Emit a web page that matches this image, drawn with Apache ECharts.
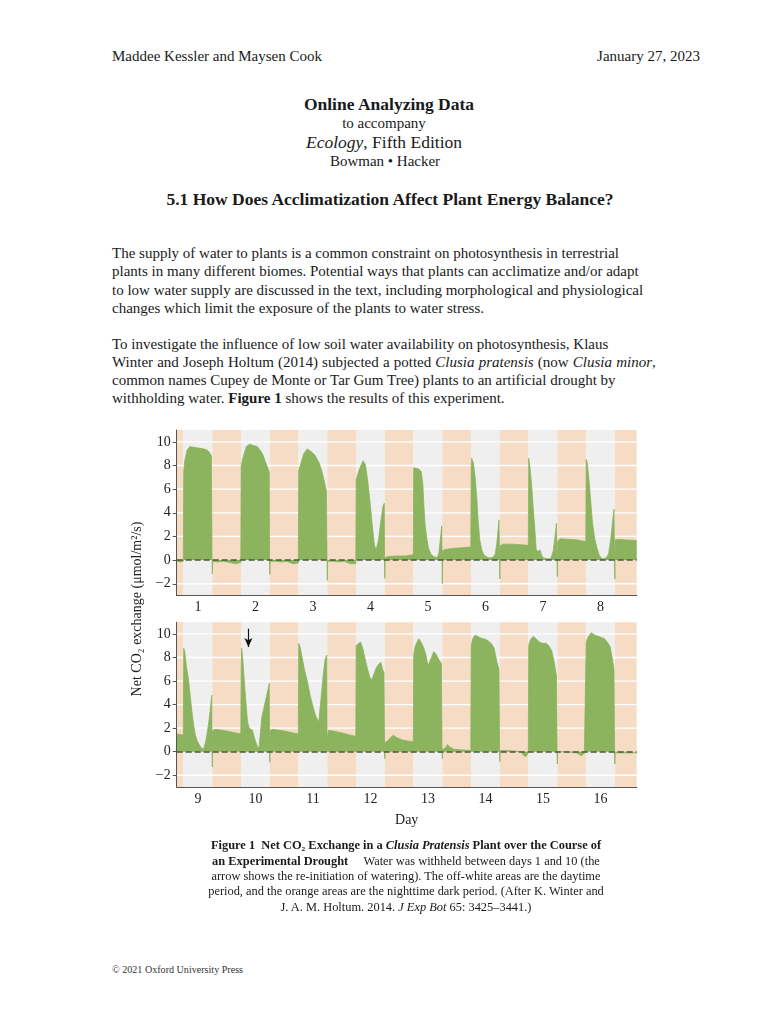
<!DOCTYPE html>
<html><head><meta charset="utf-8">
<script src="https://cdn.jsdelivr.net/npm/echarts@6/dist/echarts.min.js"></script>
<style>
html,body{margin:0;padding:0;background:#fff;}
#page{position:relative;width:768px;height:1024px;overflow:hidden;font-family:'Liberation Serif','Times New Roman',serif;color:#1a1a1a;}
.t{position:absolute;white-space:nowrap;line-height:18px;font-size:15px;}
.c{transform:translateX(-50%);}
.b{font-weight:bold;}
.cap{position:absolute;white-space:nowrap;line-height:15px;font-size:12.4px;transform:translateX(-50%);}
#chart{position:absolute;left:100px;top:420px;width:560px;height:420px;}
</style></head><body><div id="page">
<div class="t" style="left:112px;top:47px;">Maddee Kessler and Maysen Cook</div>
<div class="t" style="right:68px;top:47px;">January 27, 2023</div>
<div class="t c b" style="left:389px;top:95px;font-size:17.5px;">Online Analyzing Data</div>
<div class="t c" style="left:384px;top:114px;">to accompany</div>
<div class="t c" style="left:384px;top:133px;font-size:17.5px;"><i>Ecology</i>, Fifth Edition</div>
<div class="t c" style="left:385px;top:152px;">Bowman • Hacker</div>
<div class="t c b" style="left:390px;top:190px;font-size:17.5px;">5.1 How Does Acclimatization Affect Plant Energy Balance?</div>

<div class="t" style="left:112px;top:244px;">The supply of water to plants is a common constraint on photosynthesis in terrestrial</div>
<div class="t" style="left:112px;top:262px;">plants in many different biomes. Potential ways that plants can acclimatize and/or adapt</div>
<div class="t" style="left:112px;top:281px;">to low water supply are discussed in the text, including morphological and physiological</div>
<div class="t" style="left:112px;top:299px;">changes which limit the exposure of the plants to water stress.</div>

<div class="t" style="left:112px;top:335px;">To investigate the influence of low soil water availability on photosynthesis, Klaus</div>
<div class="t" style="left:112px;top:353px;word-spacing:0.4px;">Winter and Joseph Holtum (2014) subjected a potted <i>Clusia pratensis</i> (now <i>Clusia minor</i>,</div>
<div class="t" style="left:112px;top:371px;">common names Cupey de Monte or Tar Gum Tree) plants to an artificial drought by</div>
<div class="t" style="left:112px;top:389px;">withholding water. <b>Figure 1</b> shows the results of this experiment.</div>

<div id="chart"></div>

<div class="cap" style="left:406px;top:838px;"><b>Figure 1&nbsp; Net CO₂ Exchange in a <i>Clusia Pratensis</i> Plant over the Course of</b></div>
<div class="cap" style="left:406px;top:854px;"><b>an Experimental Drought</b>&nbsp;&nbsp;&nbsp;&nbsp; Water was withheld between days 1 and 10 (the</div>
<div class="cap" style="left:406px;top:869px;">arrow shows the re-initiation of watering). The off-white areas are the daytime</div>
<div class="cap" style="left:406px;top:884px;">period, and the orange areas are the nighttime dark period. (After K. Winter and</div>
<div class="cap" style="left:406px;top:900px;">J. A. M. Holtum. 2014. <i>J Exp Bot</i> 65: 3425–3441.)</div>

<div class="t" style="left:112px;top:961px;font-size:10.1px;color:#333;">© 2021 Oxford University Press</div>
</div>
<script>
// ---- data (time in days; integer = midday of that day; value = net CO2 exchange, µmol/m²/s)
const daysTop = [1, 2, 3, 4, 5, 6, 7, 8];
const daysBottom = [9, 10, 11, 12, 13, 14, 15, 16];
const yTicks = [-2, 0, 2, 4, 6, 8, 10];

const pre1 = [[0.63,-0.1],[0.7,-0.15],[0.745,-0.1]];
const day1 = [[0.752,7.5],[0.77,8.4],[0.81,9.3],[0.86,9.6],[0.92,9.55],[0.98,9.5],[1.04,9.45],[1.1,9.4],[1.16,9.3],[1.2,9.1],[1.235,8.8],[1.245,0],[1.25,-1.15],[1.255,-0.1],[1.35,-0.15],[1.45,-0.1],[1.55,-0.2],[1.65,-0.3],[1.745,-0.2]];
const day2 = [[1.752,8.0],[1.78,8.6],[1.84,9.6],[1.9,9.8],[1.96,9.7],[2.03,9.6],[2.08,9.3],[2.13,8.9],[2.18,8.2],[2.23,7.6],[2.24,7.4],[2.245,0],[2.25,-1.2],[2.255,-0.1],[2.35,-0.1],[2.45,-0.15],[2.55,-0.1],[2.65,-0.3],[2.745,-0.25]];
const day3 = [[2.752,7.6],[2.78,8.0],[2.84,9.0],[2.9,9.4],[2.96,9.2],[3.03,8.9],[3.1,8.3],[3.15,7.6],[3.2,6.6],[3.235,5.8],[3.245,0],[3.25,-1.7],[3.255,-0.1],[3.35,-0.1],[3.45,-0.15],[3.55,-0.1],[3.65,-0.3],[3.745,-0.3]];
const day4 = [[3.752,6.8],[3.8,7.6],[3.87,8.4],[3.91,8.1],[3.95,6.8],[3.99,5.0],[4.03,3.0],[4.07,1.2],[4.1,0.9],[4.14,1.7],[4.18,3.3],[4.22,4.6],[4.24,4.8],[4.245,0],[4.25,-1.55],[4.255,0.2],[4.3,0.3],[4.45,0.35],[4.6,0.35],[4.745,0.45]];
const day5 = [[4.752,7.8],[4.78,7.9],[4.84,7.7],[4.88,7.5],[4.91,6.5],[4.93,4.5],[4.95,3.0],[4.98,1.8],[5.01,1.0],[5.05,0.5],[5.1,0.3],[5.16,0.2],[5.19,0.6],[5.22,2.0],[5.24,2.9],[5.245,0],[5.25,-2.0],[5.255,0.8],[5.3,0.9],[5.45,1.0],[5.6,1.05],[5.745,1.1]];
const day6 = [[5.752,8.0],[5.76,8.6],[5.79,8.2],[5.82,7.0],[5.85,5.2],[5.87,3.5],[5.9,1.7],[5.94,0.8],[5.98,0.4],[6.05,0.2],[6.12,0.2],[6.17,0.5],[6.2,1.5],[6.235,3.4],[6.245,0],[6.25,-1.6],[6.255,1.2],[6.3,1.35],[6.45,1.35],[6.6,1.3],[6.745,1.25]];
const day7 = [[6.752,8.6],[6.77,8.0],[6.8,6.5],[6.83,4.4],[6.86,2.5],[6.88,1.0],[6.9,0.7],[6.93,0.8],[6.95,0.85],[6.97,0.5],[7.0,0.2],[7.08,0.1],[7.14,0.15],[7.18,0.8],[7.21,2.0],[7.235,3.1],[7.245,0],[7.25,-1.4],[7.255,1.6],[7.3,1.8],[7.45,1.75],[7.6,1.7],[7.745,1.55]];
const day8 = [[7.752,8.5],[7.77,8.2],[7.8,6.8],[7.83,5.0],[7.86,3.2],[7.9,1.8],[7.94,1.0],[7.98,0.4],[8.03,0.1],[8.09,0.15],[8.14,0.5],[8.18,1.8],[8.21,3.2],[8.235,4.3],[8.245,0],[8.25,-1.6],[8.255,1.7],[8.3,1.75],[8.45,1.7],[8.63,1.65]];

const pre9 = [[8.63,1.5],[8.7,1.45],[8.745,1.4]];
const day9 = [[8.752,8.8],[8.77,8.5],[8.8,7.2],[8.83,6.3],[8.86,5.0],[8.89,3.6],[8.92,2.4],[8.95,1.5],[8.98,1.0],[9.02,0.6],[9.06,0.3],[9.1,0.25],[9.14,1.0],[9.18,2.2],[9.21,3.4],[9.24,4.8],[9.246,0],[9.25,-1.3],[9.255,1.8],[9.3,1.9],[9.45,1.8],[9.6,1.65],[9.745,1.5]];
const day10 = [[9.752,7.0],[9.76,8.8],[9.78,7.8],[9.8,6.4],[9.83,4.4],[9.86,2.6],[9.89,2.0],[9.92,1.9],[9.95,1.8],[9.98,1.2],[10.02,0.6],[10.06,0.25],[10.08,0.3],[10.11,2.9],[10.15,3.8],[10.2,4.9],[10.24,5.8],[10.245,0],[10.25,-0.9],[10.255,1.8],[10.3,1.9],[10.45,1.8],[10.6,1.65],[10.745,1.5]];
const day11 = [[10.752,9.2],[10.77,9.0],[10.8,8.3],[10.85,7.0],[10.9,6.0],[10.95,4.8],[11.0,3.8],[11.05,3.0],[11.1,2.5],[11.12,2.4],[11.15,5.0],[11.18,6.6],[11.21,7.8],[11.24,8.2],[11.245,1.0],[11.25,1.2],[11.27,1.8],[11.35,1.75],[11.5,1.6],[11.65,1.4],[11.745,1.3]];
const day12 = [[11.752,9.0],[11.79,9.2],[11.83,9.3],[11.87,8.7],[11.91,7.8],[11.95,7.0],[11.99,6.3],[12.02,6.1],[12.06,6.6],[12.1,7.1],[12.14,7.4],[12.18,7.6],[12.21,7.0],[12.235,6.7],[12.245,0],[12.25,-0.6],[12.255,0.8],[12.3,0.9],[12.35,1.2],[12.4,1.4],[12.45,1.2],[12.55,1.0],[12.65,0.9],[12.745,0.85]];
const day13 = [[12.752,8.2],[12.78,9.0],[12.84,9.6],[12.88,9.3],[12.92,8.9],[12.96,8.3],[13.0,7.3],[13.02,7.2],[13.06,8.0],[13.1,8.5],[13.14,8.3],[13.19,7.8],[13.235,7.5],[13.245,0],[13.25,-0.6],[13.255,0.2],[13.3,0.3],[13.34,0.6],[13.38,0.4],[13.45,0.2],[13.6,0.15],[13.745,0.1]];
const day14 = [[13.752,9.0],[13.78,9.6],[13.82,9.9],[13.86,9.8],[13.9,9.7],[13.95,9.6],[14.0,9.55],[14.05,9.4],[14.1,9.2],[14.15,8.8],[14.2,7.6],[14.235,7.0],[14.245,0],[14.25,-0.85],[14.255,0.1],[14.35,0.1],[14.5,0.05],[14.62,0.0],[14.66,-0.3],[14.7,-0.42],[14.73,-0.2],[14.745,0]];
const day15 = [[14.752,9.0],[14.78,9.5],[14.83,9.8],[14.88,9.6],[14.94,9.3],[15.0,9.2],[15.06,9.2],[15.1,9.0],[15.15,8.6],[15.2,7.5],[15.235,6.4],[15.245,0],[15.25,-1.05],[15.255,0],[15.35,0],[15.5,-0.05],[15.6,-0.1],[15.64,-0.3],[15.68,-0.33],[15.72,-0.1],[15.745,0]];
const day16 = [[15.752,9.3],[15.78,9.7],[15.84,10.1],[15.9,9.9],[15.96,9.8],[16.02,9.7],[16.07,9.6],[16.12,9.3],[16.17,8.9],[16.21,7.8],[16.235,7.0],[16.245,0],[16.25,-1.05],[16.255,-0.1],[16.35,-0.1],[16.5,-0.1],[16.63,-0.1]];

const wateringArrow = {day: 9.877, from: 10.45, to: 8.9};

// ---- chart
const TOP_RANGE = [0.63, 8.63];
const BOT_RANGE = [8.63, 16.63];
const GREEN = '#8cb35d', NIGHT = '#f6dcc5', DAYC = '#efefef';
const FONT = "'Liberation Serif','Times New Roman',serif";

const topFlux = [].concat(pre1, day1, day2, day3, day4, day5, day6, day7, day8);
const botFlux = [].concat(pre9, day9, day10, day11, day12, day13, day14, day15, day16);

function bandData(days, range) {
  const out = [];
  out.push([range[0], days[0] - 0.25, 1]);
  days.forEach(d => {
    out.push([d - 0.25, d + 0.25, 0]);
    out.push([d + 0.25, Math.min(d + 0.75, range[1]), 1]);
  });
  return out;
}

function bandSeries(idx, days, range) {
  return {
    type: 'custom', xAxisIndex: idx, yAxisIndex: idx, z: 1, silent: true,
    encode: {x: [0, 1]},
    data: bandData(days, range),
    renderItem(params, api) {
      const x0 = api.coord([api.value(0), 0])[0];
      const x1 = api.coord([api.value(1), 0])[0];
      const cs = params.coordSys;
      return {type: 'rect', shape: {x: x0, y: cs.y, width: x1 - x0, height: cs.height},
        style: {fill: api.value(2) === 1 ? NIGHT : DAYC}};
    }
  };
}
function gridSeries(idx, range) {
  return {
    type: 'custom', xAxisIndex: idx, yAxisIndex: idx, z: 2, silent: true,
    data: yTicks.filter(v => v !== 0).map(v => [range[0], v]),
    renderItem(params, api) {
      const y = api.coord([api.value(0), api.value(1)])[1];
      const cs = params.coordSys;
      return {type: 'line', shape: {x1: cs.x, y1: y, x2: cs.x + cs.width, y2: y},
        style: {stroke: '#ffffff', lineWidth: 1.3}};
    }
  };
}
function fluxSeries(idx, data, extraLines) {
  return {
    type: 'line', xAxisIndex: idx, yAxisIndex: idx, z: 3, data: data,
    symbol: 'none', showSymbol: false, silent: true,
    lineStyle: {color: GREEN, width: 0.8},
    areaStyle: {color: GREEN, opacity: 1, origin: 0},
    markLine: {
      silent: true, symbol: 'none', label: {show: false},
      data: [{yAxis: 0, lineStyle: {type: [6, 3], color: '#4a5a3a', width: 1.6}}].concat(extraLines || [])
    }
  };
}
function xAxis(idx, range, days, extra) {
  return Object.assign({
    type: 'value', gridIndex: idx, min: range[0], max: range[1], z: 4,
    axisLine: {show: true, onZero: false, lineStyle: {color: '#555', width: 1}},
    axisTick: {show: false},
    splitLine: {show: false},
    axisLabel: {customValues: days, margin: 5, color: '#222', fontFamily: FONT, fontSize: 14}
  }, extra || {});
}
function yAxis(idx) {
  return {
    type: 'value', gridIndex: idx, min: -3, max: 11, z: 4,
    axisLine: {show: true, lineStyle: {color: '#555', width: 1}},
    axisTick: {show: true, customValues: yTicks, length: 4, lineStyle: {color: '#555'}},
    splitLine: {show: false},
    axisLabel: {customValues: yTicks, margin: 6, color: '#222', fontFamily: FONT, fontSize: 14,
      formatter: v => (v < 0 ? '\u2212' + Math.abs(v) : String(v))}
  };
}

const chart = echarts.init(document.getElementById('chart'), null, {renderer: 'canvas'});
chart.setOption({
  animation: false,
  grid: [
    {left: 76.7, top: 10, width: 460, height: 165.6},
    {left: 76.7, top: 202.2, width: 460, height: 164.8}
  ],
  xAxis: [
    xAxis(0, TOP_RANGE, daysTop),
    xAxis(1, BOT_RANGE, daysBottom, {name: 'Day', nameLocation: 'middle', nameGap: 26,
      nameTextStyle: {fontFamily: FONT, fontSize: 14, color: '#222'}})
  ],
  yAxis: [yAxis(0), yAxis(1)],
  graphic: [{
    type: 'text', x: 37, y: 189, rotation: Math.PI / 2,
    style: {text: 'Net CO\u2082 exchange (\u03bcmol/m\u00b2/s)', fontFamily: FONT, fontSize: 14,
      fill: '#222', align: 'center', verticalAlign: 'middle'}
  }],
  series: [
    bandSeries(0, daysTop, TOP_RANGE),
    bandSeries(1, daysBottom, BOT_RANGE),
    gridSeries(0, TOP_RANGE),
    gridSeries(1, BOT_RANGE),
    fluxSeries(0, topFlux),
    fluxSeries(1, botFlux, [[
      {coord: [wateringArrow.day, wateringArrow.from], symbol: 'none', lineStyle: {color: '#111', width: 1.2, type: 'solid'}},
      {coord: [wateringArrow.day, wateringArrow.to], symbol: 'arrow', symbolSize: [6, 9]}
    ]])
  ]
});
</script>
</body></html>
